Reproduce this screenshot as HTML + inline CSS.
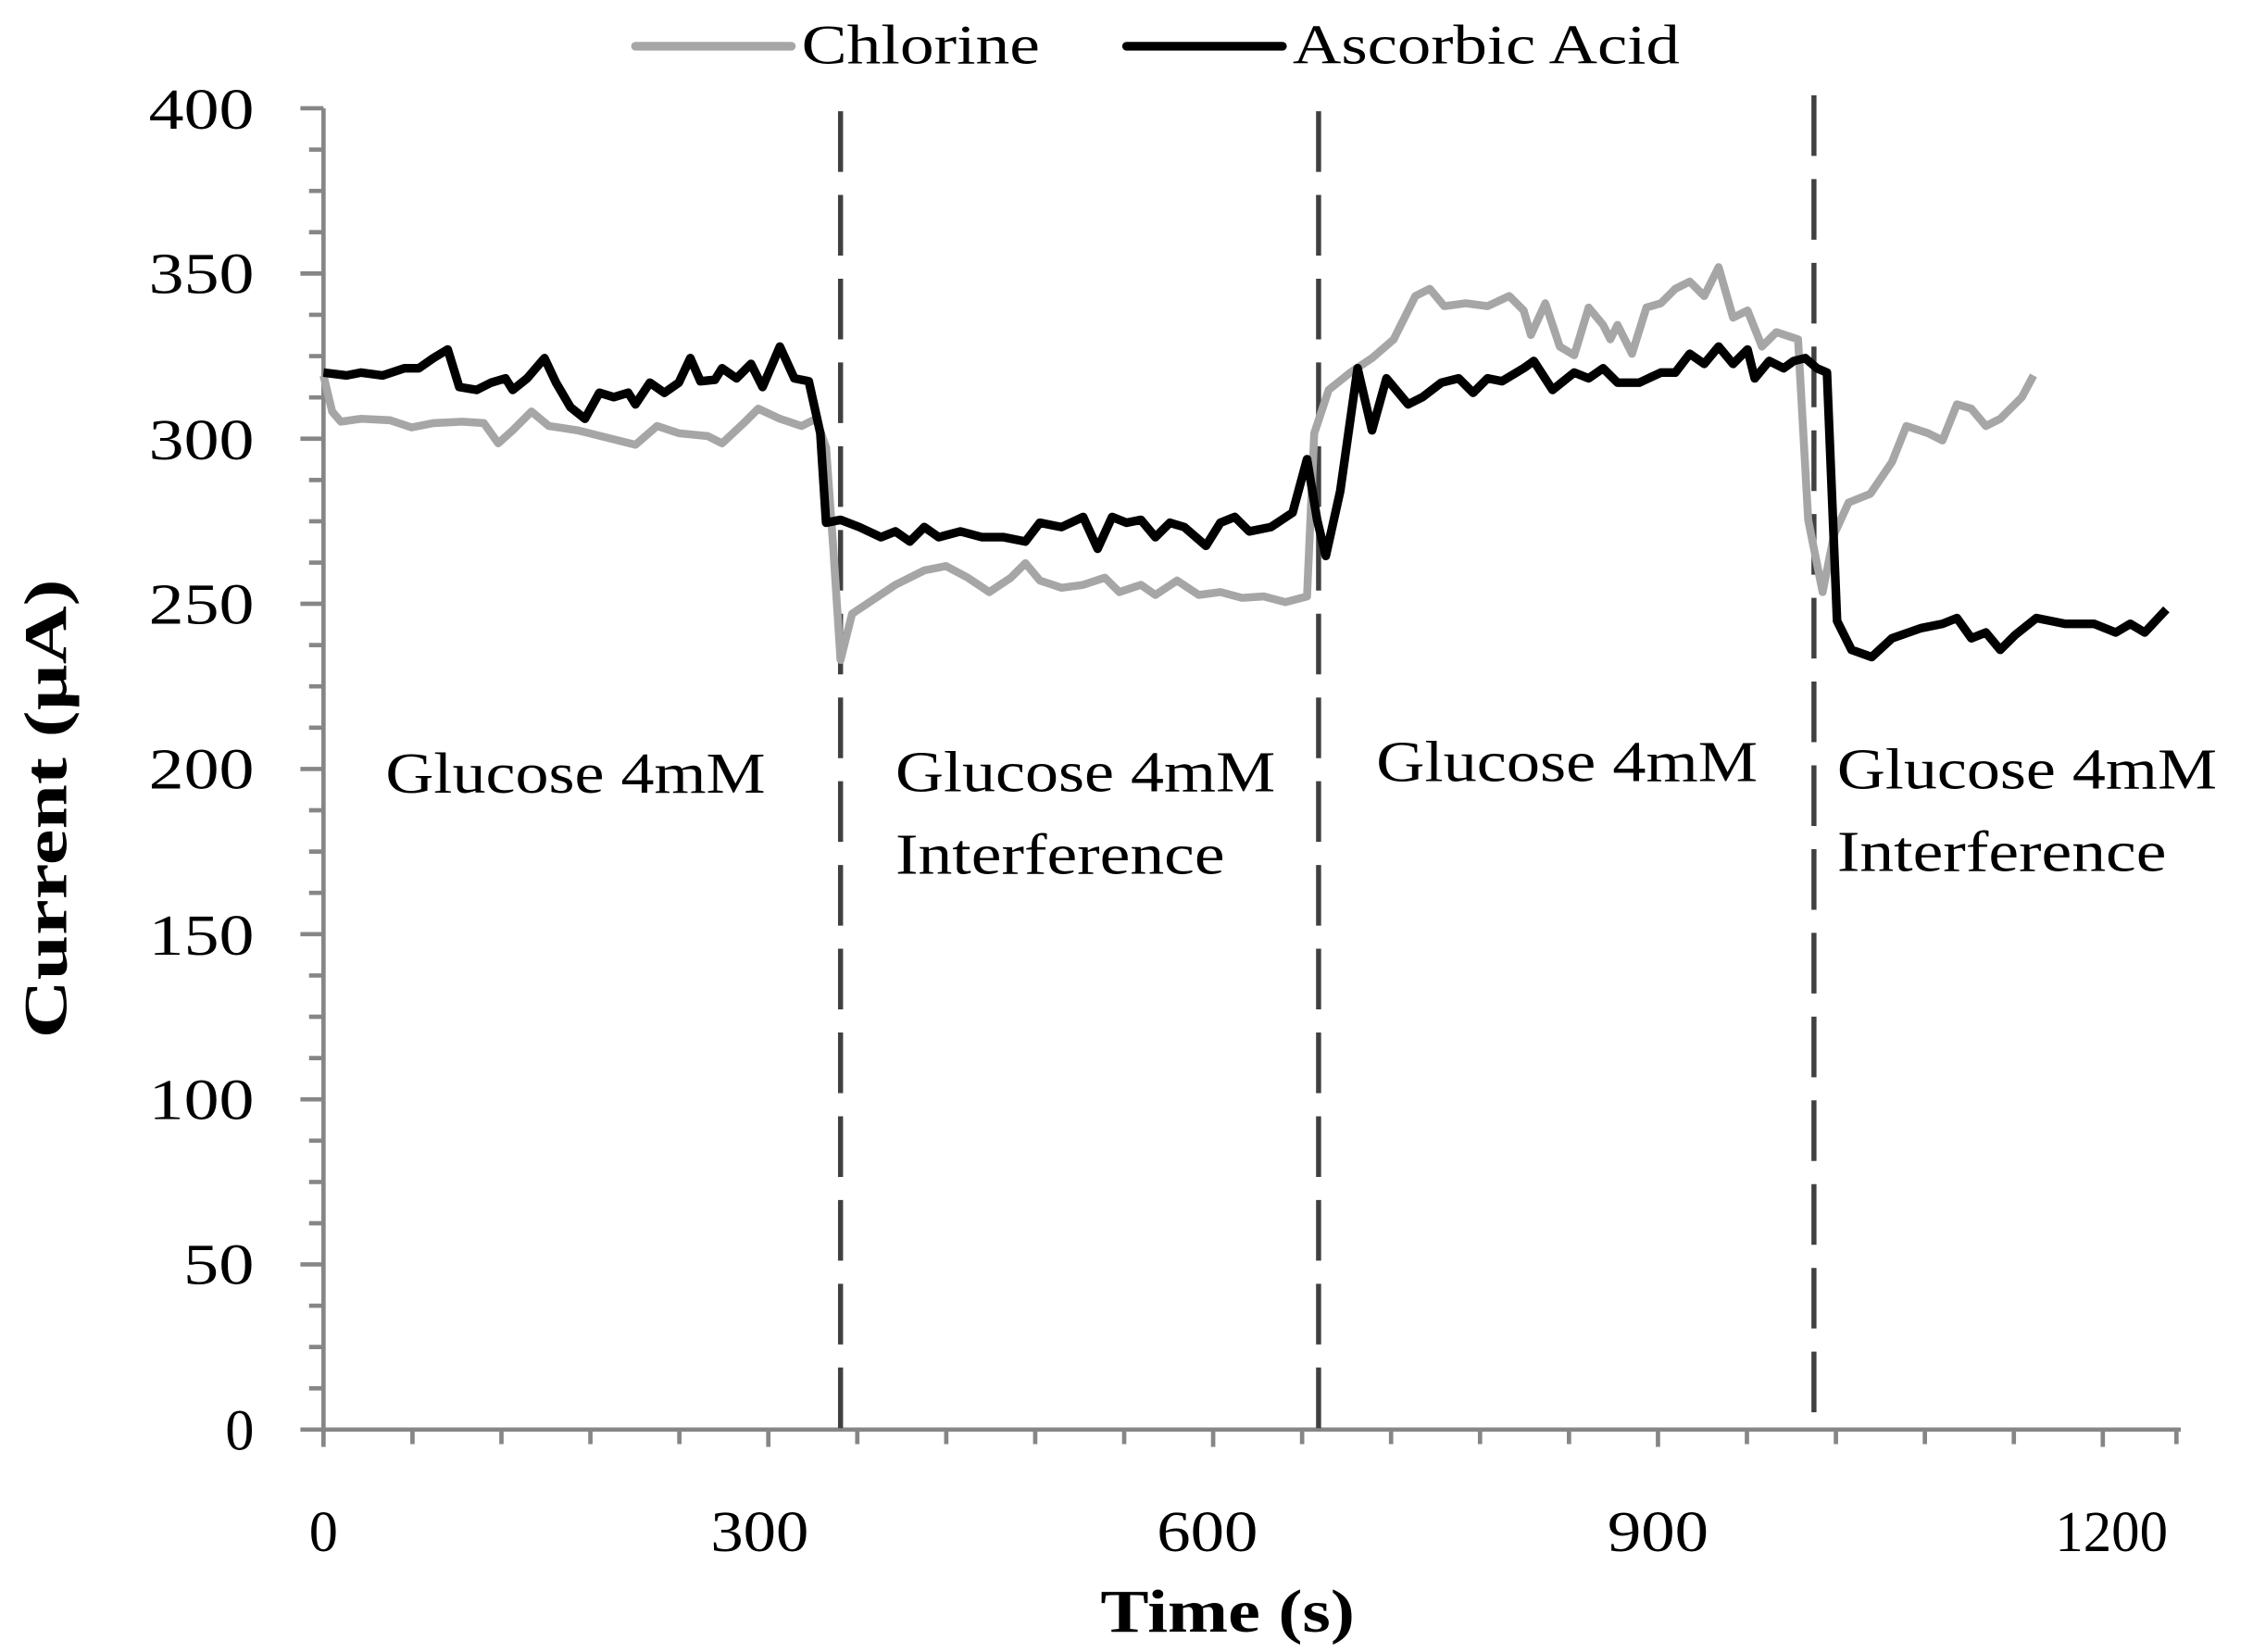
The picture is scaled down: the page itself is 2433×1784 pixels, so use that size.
<!DOCTYPE html>
<html><head><meta charset="utf-8"><style>
html,body{margin:0;padding:0;background:#fff;}
svg{display:block;}
text{font-family:"Liberation Serif",serif;fill:#000;}
</style></head><body>
<svg width="2433" height="1784" viewBox="0 0 1560 1144" preserveAspectRatio="none" xmlns="http://www.w3.org/2000/svg">
<g stroke="#868686" stroke-width="3" fill="none">
<line x1="224" y1="75" x2="224" y2="992"/>
<line x1="222" y1="990" x2="1510" y2="990"/>
<path d="M208 75H224M208 189.4H224M208 303.8H224M208 418.1H224M208 532.5H224M208 646.9H224M208 761.3H224M208 875.6H224M208 990H224"/>
<path d="M214 103.6H224M214 132.2H224M214 160.8H224M214 218H224M214 246.6H224M214 275.2H224M214 332.4H224M214 361H224M214 389.6H224M214 446.7H224M214 475.3H224M214 503.9H224M214 561.1H224M214 589.7H224M214 618.3H224M214 675.5H224M214 704.1H224M214 732.7H224M214 789.9H224M214 818.5H224M214 847.1H224M214 904.2H224M214 932.8H224M214 961.4H224"/>
<path d="M224 990V1002M285.6 990V1000M347.2 990V1000M408.8 990V1000M470.4 990V1000M532 990V1002M593.6 990V1000M655.2 990V1000M716.8 990V1000M778.4 990V1000M840 990V1002M901.6 990V1000M963.2 990V1000M1024.8 990V1000M1086.4 990V1000M1148 990V1002M1209.6 990V1000M1271.2 990V1000M1332.8 990V1000M1394.4 990V1000M1456 990V1002M1507 990V1000"/>
</g>
<g stroke="#404040" stroke-width="3.5" stroke-dasharray="42 16">
<line x1="582" y1="77" x2="582" y2="990"/>
<line x1="913" y1="77" x2="913" y2="990"/>
<line x1="1256" y1="66" x2="1256" y2="990"/>
</g>
<polyline fill="none" stroke="#a6a6a6" stroke-width="5.5" stroke-linejoin="round" points="224,260 230,285 236,292 250,290 270,291 285,296 300,293 320,292 335,293 345,307 355,298 368,285 380,295 400,298 420,303 440,308 455,295 470,300 490,302 500,307 515,293 525,283 540,290 555,295 565,290 572,310 577,380 582,457 590,425 605,415 620,405 640,395 655,392 670,400 685,410 700,400 710,390 720,402 735,407 750,405 765,400 775,410 790,405 800,412 815,402 830,412 845,410 860,414 875,413 890,417 905,413 910,300 920,270 935,258 950,248 965,235 980,205 990,200 1000,212 1015,210 1030,212 1045,205 1055,215 1060,232 1070,210 1080,240 1090,246 1100,213 1110,225 1115,235 1120,225 1130,245 1140,213 1150,210 1160,200 1170,195 1180,205 1190,185 1200,220 1210,215 1220,240 1230,230 1245,235 1252,360 1262,410 1270,370 1280,348 1295,342 1310,320 1320,295 1335,300 1345,305 1355,280 1365,283 1375,295 1385,290 1400,275 1408,260"/>
<polyline fill="none" stroke="#000" stroke-width="6" stroke-linejoin="round" points="224,258 240,260 250,258 265,260 280,255 290,255 300,248 310,242 318,268 330,270 340,265 350,262 355,270 365,262 377,248 385,265 395,282 405,290 415,272 425,275 435,272 440,280 450,265 460,272 470,265 478,248 485,264 495,263 500,255 510,262 520,252 528,268 540,240 550,262 560,264 568,300 572,362 582,360 595,365 610,372 620,368 630,375 640,365 650,372 665,368 680,372 695,372 710,375 720,362 735,365 750,358 760,380 770,358 780,362 790,360 800,372 810,362 820,365 835,378 845,362 855,358 865,368 880,365 895,355 905,318 912,360 918,385 928,340 940,255 950,298 960,262 975,280 985,275 998,265 1010,262 1020,272 1030,262 1040,264 1055,255 1062,250 1075,270 1090,258 1100,262 1110,255 1120,265 1135,265 1150,258 1160,258 1170,245 1180,252 1190,240 1200,252 1210,242 1215,262 1225,250 1235,255 1242,250 1250,248 1258,255 1265,258 1272,430 1282,450 1296,455 1310,442 1330,435 1345,432 1355,428 1365,442 1375,438 1385,450 1395,440 1410,428 1430,432 1450,432 1465,438 1475,432 1485,438 1500,422"/>
<line x1="440" y1="32" x2="548" y2="32" stroke="#a6a6a6" stroke-width="6" stroke-linecap="round"/>
<line x1="780" y1="32" x2="888" y2="32" stroke="#000" stroke-width="6" stroke-linecap="round"/>
<text x="555" y="44" font-size="39" textLength="165" lengthAdjust="spacingAndGlyphs">Chlorine</text>
<text x="895" y="44" font-size="39" textLength="268" lengthAdjust="spacingAndGlyphs">Ascorbic Acid</text>
<g font-size="40" text-anchor="end">
<text x="176" y="89" textLength="73" lengthAdjust="spacingAndGlyphs">400</text><text x="176" y="203" textLength="73" lengthAdjust="spacingAndGlyphs">350</text><text x="176" y="318" textLength="73" lengthAdjust="spacingAndGlyphs">300</text><text x="176" y="432" textLength="73" lengthAdjust="spacingAndGlyphs">250</text><text x="176" y="546" textLength="73" lengthAdjust="spacingAndGlyphs">200</text><text x="176" y="661" textLength="73" lengthAdjust="spacingAndGlyphs">150</text><text x="176" y="775" textLength="73" lengthAdjust="spacingAndGlyphs">100</text><text x="176" y="889" textLength="49" lengthAdjust="spacingAndGlyphs">50</text><text x="176" y="1004">0</text>
</g>
<g font-size="40" text-anchor="middle">
<text x="224" y="1074">0</text><text x="526" y="1074" textLength="68" lengthAdjust="spacingAndGlyphs">300</text><text x="836" y="1074" textLength="70" lengthAdjust="spacingAndGlyphs">600</text><text x="1148" y="1074" textLength="70" lengthAdjust="spacingAndGlyphs">900</text><text x="1462" y="1074" textLength="78" lengthAdjust="spacingAndGlyphs">1200</text>
</g>
<text x="850" y="1130" font-size="42" font-weight="bold" text-anchor="middle" textLength="176" lengthAdjust="spacingAndGlyphs">Time (s)</text>
<text transform="translate(46,560) rotate(-90)" font-size="42" font-weight="bold" text-anchor="middle" textLength="318" lengthAdjust="spacingAndGlyphs">Current (µA)</text>
<g font-size="40">
<text x="267" y="549" textLength="263" lengthAdjust="spacingAndGlyphs">Glucose 4mM</text>
<text x="620" y="548" textLength="263" lengthAdjust="spacingAndGlyphs">Glucose 4mM</text><text x="620" y="605" textLength="228" lengthAdjust="spacingAndGlyphs">Interference</text>
<text x="953" y="541" textLength="264" lengthAdjust="spacingAndGlyphs">Glucose 4mM</text>
<text x="1272" y="546" textLength="263" lengthAdjust="spacingAndGlyphs">Glucose 4mM</text><text x="1272" y="603" textLength="228" lengthAdjust="spacingAndGlyphs">Interference</text>
</g>
</svg>
</body></html>
